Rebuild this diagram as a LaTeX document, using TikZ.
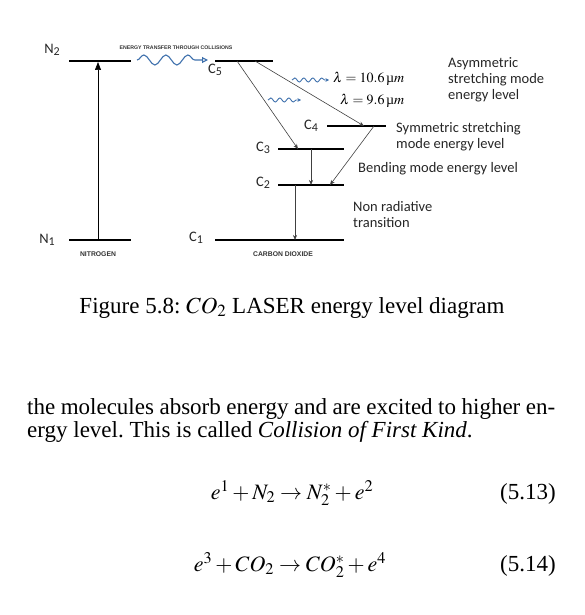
\documentclass[tikz,border=0pt]{standalone}
\usepackage{mathptmx}
\usepackage{fontspec}
\setmainfont{Liberation Serif}
\newfontfamily\calibri{Carlito}
\newfontfamily\arialfont{Liberation Sans}
\usetikzlibrary{arrows.meta,decorations.pathmorphing}
\frenchspacing
\definecolor{wavecol}{RGB}{62,112,172}
\newcommand\levlab[2]{#1\raisebox{-1.8pt}{\fontsize{12}{12}\selectfont#2}}
\tikzset{
  level/.style={line width=2.2pt},
  trans/.style={draw=black!75,line width=0.6pt,-{Stealth[length=5pt,width=4pt]}},
  photon/.style={draw=wavecol,line width=0.9pt,-{Stealth[length=3.5pt,width=3.5pt]},decorate,
    decoration={snake,amplitude=2pt,segment length=9pt,post length=4pt}},
  tinycap/.style={font=\arialfont\bfseries\fontsize{6.8}{8}\selectfont,text=black!80,inner sep=0pt},
  lbl/.style={font=\calibri\fontsize{14.5}{16}\selectfont,text=black!85,inner sep=0pt},
  body/.style={font=\fontsize{23}{26}\selectfont,inner sep=0pt}
}
\begin{document}
\begin{tikzpicture}[x=1pt,y=-1pt]
\useasboundingbox (0,0) rectangle (584,615);
% energy levels
\coordinate (n1l) at (69,240);  \coordinate (n1r) at (131,240);
\coordinate (n2l) at (69,61);   \coordinate (n2r) at (131,61);
\coordinate (c5l) at (215,61);  \coordinate (c5r) at (273,61);
\coordinate (c4l) at (327,126); \coordinate (c4r) at (386,126);
\coordinate (c3l) at (278,149); \coordinate (c3r) at (344,149);
\coordinate (c2l) at (278,185); \coordinate (c2r) at (344,185);
\coordinate (c1l) at (215,240); \coordinate (c1r) at (344,240);
\draw[level] (n1l)--(n1r) (n2l)--(n2r) (c5l)--(c5r) (c4l)--(c4r)
  (c3l)--(c3r) (c2l)--(c2r) (c1l)--(c1r);
\node[lbl] (ln2) at (52,50) {\levlab{N}{2}};
\node[lbl] (ln1) at (47,240) {\levlab{N}{1}};
\node[lbl] (lc5) at (215,70) {\levlab{C}{5}};
\node[lbl] (lc4) at (311,126) {\levlab{C}{4}};
\node[lbl] (lc3) at (263,148) {\levlab{C}{3}};
\node[lbl] (lc2) at (263,183) {\levlab{C}{2}};
\node[lbl] (lc1) at (196,238) {\levlab{C}{1}};
\node[tinycap] (nitro) at (98,254) {NITROGEN};
\node[tinycap] (carbon) at (283,254) {CARBON DIOXIDE};
\node[tinycap,font=\arialfont\bfseries\fontsize{5.2}{6}\selectfont] (transfer) at (176,47.5) {ENERGY TRANSFER THROUGH COLLISIONS};
% pumping and transfer
\coordinate (p1) at (98,240); \coordinate (p2) at (98,62);
\draw[line width=0.7pt,-{Triangle[length=8pt,width=6pt]}] (p1)--(p2);
\coordinate (w1) at (137,60); \coordinate (w2) at (208,60);
\draw[draw=wavecol,line width=1.1pt,-{Triangle[open,length=6pt,width=6pt]},decorate,
  decoration={snake,amplitude=5pt,segment length=22pt,post length=6pt}] (w1)--(w2);
% transitions
\coordinate (t1) at (237,61);  \coordinate (t2) at (298,149);
\coordinate (t3) at (255,61);  \coordinate (t4) at (364,126);
\coordinate (t5) at (374,126); \coordinate (t6) at (330,185);
\coordinate (t7) at (311,149); \coordinate (t8) at (311,185);
\coordinate (t9) at (295,185); \coordinate (t10) at (295,240);
\draw[trans] (t1)--(t2);
\draw[trans] (t3)--(t4);
\draw[trans] (t5)--(t6);
\draw[trans] (t7)--(t8);
\draw[trans] (t9)--(t10);
\coordinate (s1) at (292,80); \coordinate (s2) at (329,80);
\coordinate (s3) at (268,100); \coordinate (s4) at (301,100);
\draw[photon] (s1)--(s2);
\draw[photon] (s3)--(s4);
\node[font=\fontsize{14}{16}\selectfont,anchor=base west,inner sep=0pt] (lam1) at (333,83) {$\lambda = 10.6\,$µ$m$};
\node[font=\fontsize{14}{16}\selectfont,anchor=base west,inner sep=0pt] (lam2) at (340,105) {$\lambda = 9.6\,$µ$m$};
\node[lbl,anchor=base west,align=left] (asym) at (448,99.5) {Asymmetric\\stretching mode\\energy level};
\node[lbl,anchor=base west,align=left] (sym) at (396,148.5) {Symmetric stretching\\mode energy level};
\node[lbl,anchor=base west] (bend) at (358,172.7) {Bending mode energy level};
\node[lbl,anchor=base west,align=left] (nonrad) at (353,227.5) {Non radiative\\transition};
% caption and text
\node[body,anchor=base] (cap) at (292,313) {Figure 5.8: $CO_2$ LASER energy level diagram};
\node[body,anchor=base west] (line1) at (27,414) {\makebox[528pt][s]{the molecules absorb energy and are excited to higher en-}};
\node[body,anchor=base west] (line2) at (27,437) {ergy level. This is called \textit{Collision of First Kind}.};
\node[body,font=\fontsize{22}{26}\selectfont,anchor=base] (eq1) at (292,499) {$e^1 + N_2 \rightarrow N_2^* + e^2$};
\node[body,anchor=base east] (num1) at (556,499) {(5.13)};
\node[body,font=\fontsize{22}{26}\selectfont,anchor=base] (eq2) at (290,571) {$e^3 + CO_2 \rightarrow CO_2^* + e^4$};
\node[body,anchor=base east] (num2) at (556,571) {(5.14)};
\end{tikzpicture}
\end{document}
